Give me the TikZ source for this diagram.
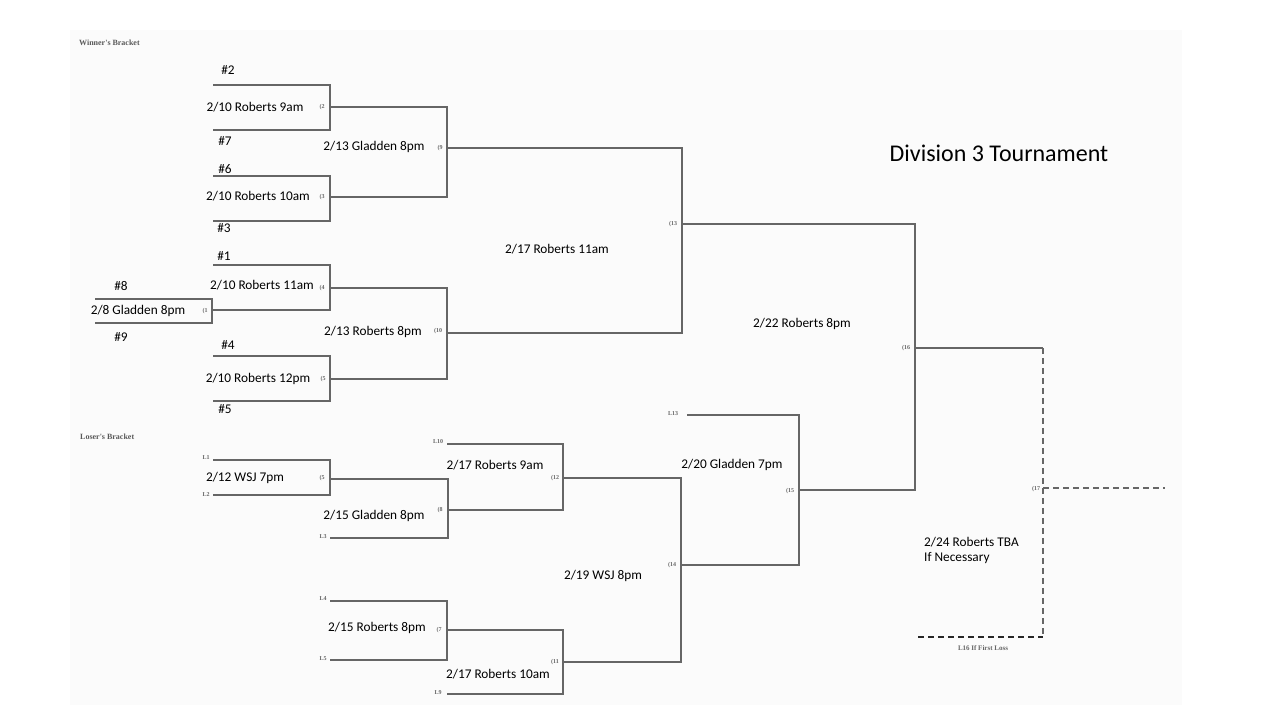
\documentclass[tikz,border=0pt]{standalone}
\usepackage{fontspec}
\setmainfont{Carlito}
\newfontfamily\serifsm{Liberation Serif}
\begin{document}
\begin{tikzpicture}[x=1pt,y=-1pt,
  br/.style={draw=black!60,line width=1.1pt},
  dsh/.style={draw=black!60,line width=1.2pt,dash pattern=on 6pt off 4pt},
  lab/.style={font=\fontsize{13.3}{15}\selectfont,inner sep=0pt},
  tiny/.style={font=\serifsm\fontsize{6}{7}\selectfont\bfseries,text=black!60,inner sep=0pt},
  hd/.style={font=\serifsm\fontsize{8}{9}\selectfont\bfseries,text=black!65,inner sep=0pt,anchor=west}]
\useasboundingbox (0,0) rectangle (1280,720);
\fill[black!1.5] (70,30) rectangle (1182,705);
% winners bracket
\draw[br] (213,85) -- (330,85) -- (330,130) -- (213,130);
\draw[br] (213,176) -- (330,176) -- (330,221) -- (213,221);
\draw[br] (330,107) -- (447,107) -- (447,197) -- (330,197);
\draw[br] (213,265) -- (330,265) -- (330,310) -- (212,310);
\draw[br] (95,299) -- (212,299) -- (212,323) -- (95,323);
\draw[br] (213,356) -- (330,356) -- (330,401) -- (213,401);
\draw[br] (330,288) -- (447,288) -- (447,379) -- (330,379);
\draw[br] (447,148) -- (682,148) -- (682,333) -- (447,333);
\draw[br] (682,224) -- (915,224) -- (915,490) -- (799,490);
\draw[br] (915,348) -- (1043,348);
\draw[dsh] (1043,348) -- (1043,637);
\draw[dsh] (1043,488) -- (1165,488);
\draw[dsh,draw=black!85] (918,637) -- (1043,637);
% losers bracket
\draw[br] (213,460) -- (330,460) -- (330,495) -- (213,495);
\draw[br] (330,479) -- (448,479) -- (448,538) -- (330,538);
\draw[br] (447,444) -- (563,444) -- (563,510) -- (448,510);
\draw[br] (330,601) -- (447,601) -- (447,660) -- (330,660);
\draw[br] (447,630) -- (563,630) -- (563,694) -- (447,694);
\draw[br] (563,478) -- (681,478) -- (681,662) -- (563,662);
\draw[br] (687,415) -- (799,415) -- (799,565) -- (681,565);
% headers
\node[hd] (wb) at (79,43) {Winner's Bracket};
\node[hd] (lb) at (80,437) {Loser's Bracket};
\node[tiny,font=\serifsm\fontsize{7}{8}\selectfont\bfseries] (l16) at (983,648) {L16 If First Loss};
% small game numbers
\node[tiny] (g2) at (322,107) {(2};
\node[tiny] (g3) at (322,197) {(3};
\node[tiny] (g9) at (440,148) {(9};
\node[tiny] (g4) at (322,288) {(4};
\node[tiny] (g1) at (205,311) {(1};
\node[tiny] (g5w) at (323,379) {(5};
\node[tiny] (g10) at (438,331) {(10};
\node[tiny] (g13) at (673,224) {(13};
\node[tiny] (g16) at (906,348) {(16};
\node[tiny] (g17) at (1036,489) {(17};
\node[tiny] (g5) at (322,478) {(5};
\node[tiny] (g8) at (440,510) {(8};
\node[tiny] (g12) at (555,478) {(12};
\node[tiny] (g7) at (439,630) {(7};
\node[tiny] (g11) at (555,662) {(11};
\node[tiny] (g14) at (672,565) {(14};
\node[tiny] (g15) at (790,491) {(15};
\node[tiny] (L1) at (206,458) {L1};
\node[tiny] (L2) at (206,495) {L2};
\node[tiny] (L3) at (323,537) {L3};
\node[tiny] (L10) at (438,442) {L10};
\node[tiny] (L4) at (323,599) {L4};
\node[tiny] (L5) at (323,659) {L5};
\node[tiny] (L9) at (438,693) {L9};
\node[tiny] (L13) at (673,414) {L13};
% seeds
\node[lab] (s2) at (228,70) {\#2};
\node[lab] (s7) at (225,141) {\#7};
\node[lab] (s6) at (225,169) {\#6};
\node[lab] (s3) at (224,228) {\#3};
\node[lab] (s1) at (224,256) {\#1};
\node[lab] (s8) at (121,286) {\#8};
\node[lab] (s9) at (121,337) {\#9};
\node[lab] (s4) at (228,345) {\#4};
\node[lab] (s5) at (225,409) {\#5};
% game labels
\node[lab] (t1) at (255,107) {2/10 Roberts 9am};
\node[lab] (t2) at (374,147) {2/13 Gladden 8pm};
\node[lab] (t3) at (258,196) {2/10 Roberts 10am};
\node[lab] (t4) at (262,285) {2/10 Roberts 11am};
\node[lab] (t5) at (138,311) {2/8 Gladden 8pm};
\node[lab] (t6) at (373,332) {2/13 Roberts 8pm};
\node[lab] (t7) at (258,379) {2/10 Roberts 12pm};
\node[lab] (t8) at (557,249) {2/17 Roberts 11am};
\node[lab,font=\fontsize{24}{28}\selectfont] (title) at (999,153) {Division 3 Tournament};
\node[lab] (t9) at (802,324) {2/22 Roberts 8pm};
\node[lab] (t10) at (245,478) {2/12 WSJ 7pm};
\node[lab] (t11) at (374,516) {2/15 Gladden 8pm};
\node[lab] (t12) at (495,465) {2/17 Roberts 9am};
\node[lab] (t13) at (732,465) {2/20 Gladden 7pm};
\node[lab] (t14) at (603,576) {2/19 WSJ 8pm};
\node[lab] (t15) at (377,628) {2/15 Roberts 8pm};
\node[lab] (t16) at (498,674) {2/17 Roberts 10am};
\node[lab,anchor=west,align=left] (t17) at (924,550) {2/24 Roberts TBA\\If Necessary};
\end{tikzpicture}
\end{document}
